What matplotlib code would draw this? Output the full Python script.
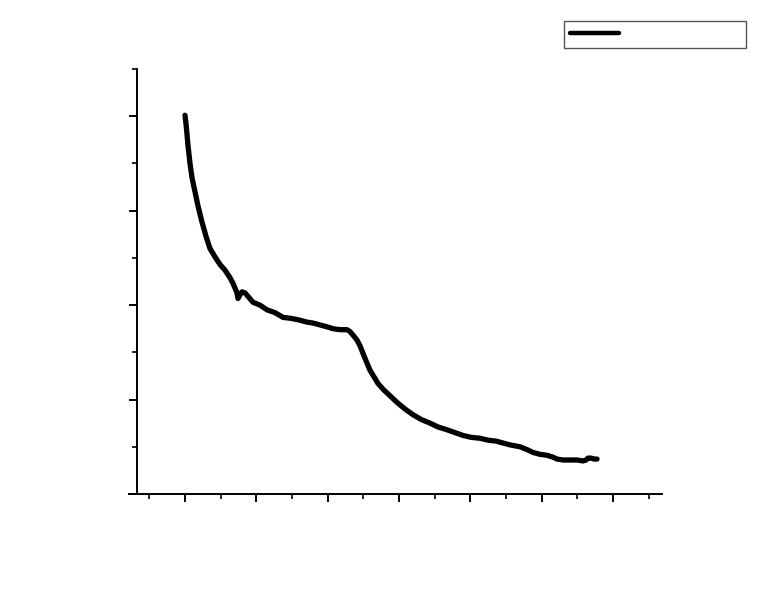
import matplotlib
matplotlib.use('Agg')
import matplotlib.pyplot as plt
from matplotlib.ticker import MultipleLocator, NullFormatter

# curve (arbitrary units, nothing is labelled)
x_vals = [0.000, 0.014, 0.028, 0.042, 0.070, 0.098, 0.140, 0.182, 0.238, 0.294,
          0.350, 0.421, 0.491, 0.561, 0.631, 0.673, 0.729, 0.743, 0.771, 0.799,
          0.841, 0.897, 0.953, 1.051, 1.150, 1.262, 1.374, 1.486, 1.612, 1.710,
          1.794, 1.893, 1.991, 2.075, 2.173, 2.271, 2.313, 2.369, 2.411, 2.453,
          2.495, 2.538, 2.594, 2.650, 2.706, 2.776, 2.874, 2.972, 3.084, 3.196,
          3.309, 3.435, 3.547, 3.673, 3.785, 3.897, 4.010, 4.136, 4.248, 4.360,
          4.458, 4.556, 4.697, 4.795, 4.879, 4.977, 5.075, 5.159, 5.215, 5.299,
          5.397, 5.496, 5.580, 5.622, 5.650, 5.692, 5.734, 5.776]
y_vals = [4.01, 3.92, 3.81, 3.69, 3.50, 3.35, 3.20, 3.05, 2.88, 2.73,
          2.60, 2.51, 2.43, 2.37, 2.29, 2.23, 2.13, 2.07, 2.11, 2.14,
          2.13, 2.08, 2.03, 2.00, 1.95, 1.92, 1.87, 1.86, 1.84, 1.82,
          1.81, 1.79, 1.77, 1.75, 1.74, 1.74, 1.72, 1.67, 1.63, 1.57,
          1.49, 1.41, 1.31, 1.24, 1.17, 1.11, 1.04, 0.97, 0.90, 0.84,
          0.79, 0.75, 0.71, 0.68, 0.65, 0.62, 0.60, 0.59, 0.57, 0.56,
          0.54, 0.52, 0.50, 0.47, 0.44, 0.42, 0.41, 0.39, 0.37, 0.36,
          0.36, 0.36, 0.35, 0.36, 0.38, 0.38, 0.37, 0.37]

x_lim = (-0.785, 6.687)
y_lim = (0.0, 4.5)
y_axis_at = -0.673

fig = plt.figure(figsize=(7.68, 5.94), dpi=100)
ax = fig.add_axes([129 / 768, 1 - 494 / 594, (662 - 129) / 768, (494 - 69) / 594])

line, = ax.plot(x_vals, y_vals, color='black', lw=3.8,
                solid_capstyle='round', solid_joinstyle='round')

ax.set_xlim(*x_lim)
ax.set_ylim(*y_lim)

for side in ('top', 'right'):
    ax.spines[side].set_visible(False)
for side in ('left', 'bottom'):
    ax.spines[side].set_linewidth(1.4)
ax.spines['left'].set_position(('data', y_axis_at))

ax.xaxis.set_major_locator(MultipleLocator(1))
ax.xaxis.set_minor_locator(MultipleLocator(0.5))
ax.yaxis.set_major_locator(MultipleLocator(1))
ax.yaxis.set_minor_locator(MultipleLocator(0.5))
ax.xaxis.set_major_formatter(NullFormatter())
ax.yaxis.set_major_formatter(NullFormatter())
ax.tick_params(which='major', direction='out', length=6, width=1.4)
ax.tick_params(which='minor', direction='out', length=3.5, width=1.2)

# legend box has a line sample but no readable text
leg = fig.legend([line], [' ' * 25], loc='upper left',
                 bbox_to_anchor=(564 / 768, 1 - 21 / 594),
                 borderaxespad=0, fontsize=10, handlelength=3.5,
                 handletextpad=0.8, borderpad=0.45, fancybox=False,
                 framealpha=1, edgecolor='#555555')
leg.get_frame().set_linewidth(1.0)
leg.get_lines()[0].set_linewidth(3.2)

fig.savefig('out.png', dpi=100)
